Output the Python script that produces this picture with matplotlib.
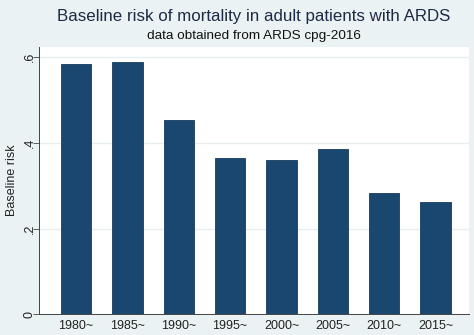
import matplotlib
matplotlib.use("Agg")
import matplotlib.pyplot as plt

categories = ["1980~", "1985~", "1990~", "1995~", "2000~", "2005~", "2010~", "2015~"]
risk = [0.584, 0.588, 0.454, 0.364, 0.360, 0.386, 0.283, 0.262]
yticks = [0, 0.2, 0.4, 0.6]
ytick_labels = ["0", ".2", ".4", ".6"]

plt.rcParams['font.family'] = ['Liberation Sans', 'DejaVu Sans']

bg = '#EAF2F3'
fig = plt.figure(figsize=(4.74, 3.35), dpi=100, facecolor=bg)
ax = fig.add_axes([39/474, 1 - 314.3/335, (469-39)/474, (314.3-47)/335])
ax.set_facecolor('white')

x = list(range(len(categories)))
ax.bar(x, risk, width=0.59, color='#1A476F', edgecolor='#163C5E', linewidth=0.6, zorder=3)

ax.set_xlim(-0.72, 7.65)
ax.set_ylim(0, 0.624)
ax.set_yticks(yticks)
ax.set_yticklabels(ytick_labels, rotation=90, va='center', ha='center')
ax.set_xticks(x)
ax.set_xticklabels(categories)
ax.tick_params(axis='both', labelsize=9, color='#444444', length=4, width=0.6)
ax.tick_params(axis='x', length=0, pad=4)
ax.tick_params(axis='y', pad=2.5)
for lab in ax.get_xticklabels() + ax.get_yticklabels():
    lab.set_color('#222222')
ax.yaxis.grid(True, color='#E8EEEF', linewidth=1.0, zorder=0)
for s in ['top', 'right']:
    ax.spines[s].set_visible(False)
for s in ['left', 'bottom']:
    ax.spines[s].set_color('#444444')
    ax.spines[s].set_linewidth(0.7)
ax.set_ylabel("Baseline risk", fontsize=9, color='#222222')
ax.yaxis.set_label_coords((18 - 39) / 430, 0.5)

cx = (39 + 469) / 2 / 474
fig.text(cx, 1 - 17/335, "Baseline risk of mortality in adult patients with ARDS",
         ha='center', va='center', fontsize=12.2, color='#1C2B45')
fig.text(cx, 1 - 36/335, "data obtained from ARDS cpg-2016",
         ha='center', va='center', fontsize=9.7, color='#111111')

fig.savefig("out.png", dpi=100, facecolor=bg)
